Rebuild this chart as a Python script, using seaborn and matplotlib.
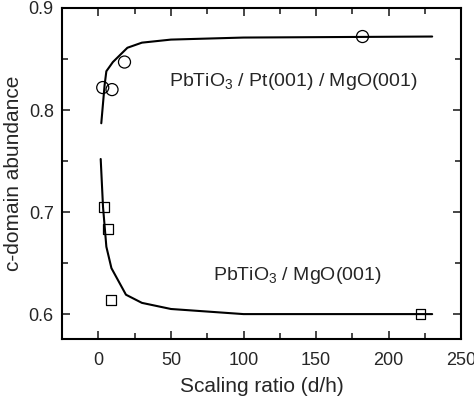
import seaborn as sns
import matplotlib.pyplot as plt
import pandas as pd

# measured points
pt_ratio = [3, 9.4, 18, 182]
pt_abund = [0.822, 0.820, 0.847, 0.872]
mgo_ratio = [3.9, 6.6, 8.7, 222]
mgo_abund = [0.705, 0.683, 0.614, 0.600]

# fitted curves
pt_fit_ratio = [2, 4.3, 5.5, 10, 20, 30, 50, 100, 230]
pt_fit_abund = [0.787, 0.8245, 0.838, 0.847, 0.861, 0.866, 0.869, 0.871, 0.872]
mgo_fit_ratio = [1.6, 3.2, 5.5, 9, 19, 30, 50, 100, 230]
mgo_fit_abund = [0.752, 0.705, 0.666, 0.645, 0.619, 0.611, 0.605, 0.600, 0.600]


def main():
	sns.set_style("ticks")
	plt.rcParams['font.family'] = ['Liberation Sans', 'DejaVu Sans']
	plt.rcParams['mathtext.fontset'] = 'custom'
	plt.rcParams['mathtext.rm'] = 'Liberation Sans'
	plt.rcParams['mathtext.default'] = 'regular'

	fig, ax = plt.subplots(figsize=(4.74, 3.98), dpi=100)
	fig.subplots_adjust(left=0.131, right=0.973, top=0.980, bottom=0.148)

	df_pt_fit = pd.DataFrame({'x': pt_fit_ratio, 'y': pt_fit_abund})
	df_mgo_fit = pd.DataFrame({'x': mgo_fit_ratio, 'y': mgo_fit_abund})
	sns.lineplot(data=df_pt_fit, x='x', y='y', color='black', linewidth=1.5, sort=False, ax=ax)
	sns.lineplot(data=df_mgo_fit, x='x', y='y', color='black', linewidth=1.5, sort=False, ax=ax)

	df_pt = pd.DataFrame({'x': pt_ratio, 'y': pt_abund})
	df_mgo = pd.DataFrame({'x': mgo_ratio, 'y': mgo_abund})
	sns.scatterplot(data=df_pt, x='x', y='y', marker='o', s=75, facecolor='none',
		edgecolor='black', linewidth=0.9, ax=ax, zorder=3)
	sns.scatterplot(data=df_mgo, x='x', y='y', marker='s', s=50, facecolor='none',
		edgecolor='black', linewidth=0.9, ax=ax, zorder=3)

	ax.text(49, 0.8275, 'PbTiO$_3$ / Pt(001) / MgO(001)', fontsize=14, va='center')
	ax.text(79, 0.638, 'PbTiO$_3$ / MgO(001)', fontsize=14, va='center')

	ax.set_xlim(-25, 250)
	ax.set_ylim(0.5755, 0.9)
	ax.set_xticks([0, 50, 100, 150, 200, 250])
	ax.set_xticks([25, 75, 125, 175, 225], minor=True)
	ax.set_yticks([0.6, 0.7, 0.8, 0.9])
	ax.set_yticks([0.65, 0.75, 0.85], minor=True)
	ax.set_xlabel("Scaling ratio (d/h)", fontsize=15, labelpad=6)
	ax.set_ylabel("c-domain abundance", fontsize=15, labelpad=4)
	ax.tick_params(which='both', direction='in', top=True, right=True, width=1.2, labelsize=13)
	ax.tick_params(which='major', length=6)
	ax.tick_params(which='minor', length=4)
	ax.tick_params(axis='x', which='major', pad=9)
	ax.tick_params(axis='y', which='major', pad=6)
	for sp in ax.spines.values():
		sp.set_linewidth(1.5)
		sp.set_color('black')

	fig.savefig('out.png', dpi=100)

main()
